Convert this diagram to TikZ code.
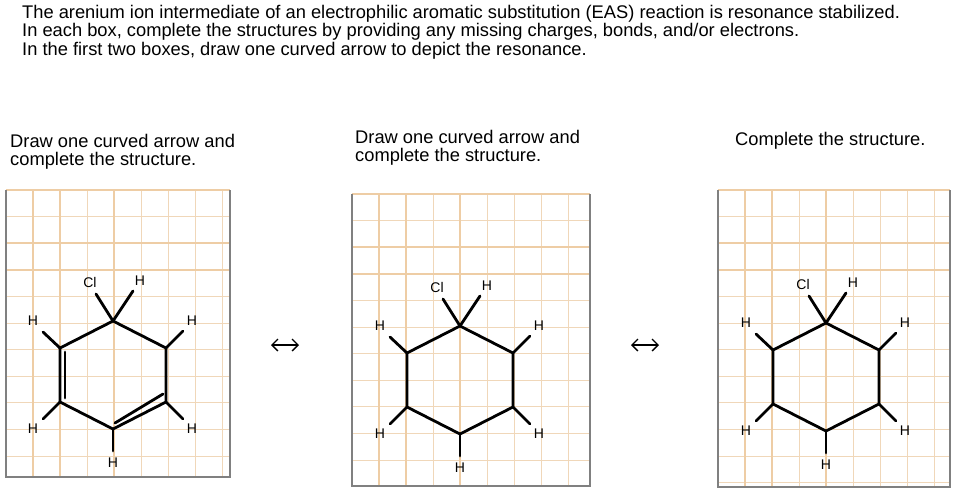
\documentclass[tikz,border=0pt]{standalone}
\usepackage{fontspec}
\setmainfont{Liberation Sans}
\usetikzlibrary{calc,arrows.meta}
\begin{document}
\begin{tikzpicture}[x=1pt,y=-1pt,
  gridl/.style={draw={rgb,255:red,240;green,215;blue,185},line width=0.8pt},
  gridt/.style={draw={rgb,255:red,238;green,205;blue,165},line width=1.8pt},
  bond/.style={line width=2.8pt,line cap=round,line join=round},
  atom/.style={font=\fontsize{14}{14}\selectfont,inner sep=0pt},
  lbl/.style={font=\fontsize{18.3}{18.5}\selectfont,anchor=north west,align=left,inner sep=0pt},
  res/.style={line width=1.3pt,{Straight Barb[length=6pt,width=12pt]}-{Straight Barb[length=6pt,width=12pt]}}]
\useasboundingbox (0,0) rectangle (954,491);
\fill[white] (0,0) rectangle (954,491);
\node[lbl] (t) at (22,5) {The arenium ion intermediate of an electrophilic aromatic substitution (EAS) reaction is resonance stabilized.\\In each box, complete the structures by providing any missing charges, bonds, and/or electrons.\\In the first two boxes, draw one curved arrow to depict the resonance.};
\node[lbl] (l1) at (10,134) {Draw one curved arrow and\\complete the structure.};
\node[lbl] (l2) at (355,130) {Draw one curved arrow and\\complete the structure.};
\node[lbl] (l3) at (735,132) {Complete the structure.};
% grids
\newcommand{\gridbox}[4]{% left top right bottom
  \foreach \i in {0,...,9}{\pgfmathsetmacro\xx{#1+27*\i}
    \ifdim\xx pt<#3pt \draw[gridl] (\xx,#2) -- (\xx,#4);\fi}
  \foreach \j in {0,...,11}{\pgfmathsetmacro\yy{#2+26.6*\j}
    \ifdim\yy pt<#4pt \draw[gridl] (#1,\yy) -- (#3,\yy);\fi}
  \foreach \i in {1,2,4}{\draw[gridt] (#1+27*\i,#2) -- (#1+27*\i,#4);}
  \foreach \j in {0,2,3}{\draw[gridt] (#1,#2+26.6*\j) -- (#3,#2+26.6*\j);}
  \draw[gray,line width=1.2pt] (#1,#2) -- (#1,#4) -- (#3,#4) -- (#3,#2);
}
\gridbox{6}{190}{230}{477}
\gridbox{352}{194}{590}{486}
\gridbox{718}{190}{950}{487}
% ring
\newcommand{\ring}[3]{% cx topy prefix
  \coordinate (#3a) at (#1,#2);
  \coordinate (#3b) at (#1-53,#2+27);
  \coordinate (#3c) at (#1-53,#2+81);
  \coordinate (#3d) at (#1,#2+108);
  \coordinate (#3e) at (#1+53,#2+81);
  \coordinate (#3f) at (#1+53,#2+27);
  \draw[bond] (#3a)--(#3b)--(#3c)--(#3d)--(#3e)--(#3f)--cycle;
  \node[atom] (#3Cl) at (#1-23,#2-39) {Cl};
  \node[atom] (#3H1) at (#1+27,#2-40) {H};
  \node[atom] (#3H2) at (#1-80,#2) {H};
  \node[atom] (#3H3) at (#1+79,#2) {H};
  \node[atom] (#3H4) at (#1-80,#2+108) {H};
  \node[atom] (#3H5) at (#1+79,#2+108) {H};
  \node[atom] (#3H6) at (#1,#2+142) {H};
  \draw[bond] (#3a) -- ($(#3a)+(-17,-27)$);
  \draw[bond] (#3a) -- ($(#3a)+(20,-30)$);
  \draw[bond] (#3b) -- ($(#3b)+(-17,-16)$);
  \draw[bond] (#3f) -- ($(#3f)+(17,-17)$);
  \draw[bond] (#3c) -- ($(#3c)+(-17,17)$);
  \draw[bond] (#3e) -- ($(#3e)+(17,17)$);
  \draw[bond] (#3d) -- ($(#3d)+(0,22)$);
}
\ring{113}{321}{A}
\ring{460}{326}{B}
\ring{826}{323}{C}
% double bonds in box 1
\draw[bond] ($(Ab)+(5,4)$) -- ($(Ac)+(5,-4)$);
\draw[bond] ($(Ad)+(2,-6)$) -- ($(Ae)+(-3,-8)$);
% resonance arrows
\coordinate (r1a) at (271,345); \coordinate (r1b) at (299,345);
\coordinate (r2a) at (631,345); \coordinate (r2b) at (659,345);
\draw[res] (r1a) -- (r1b);
\draw[res] (r2a) -- (r2b);
\end{tikzpicture}
\end{document}
